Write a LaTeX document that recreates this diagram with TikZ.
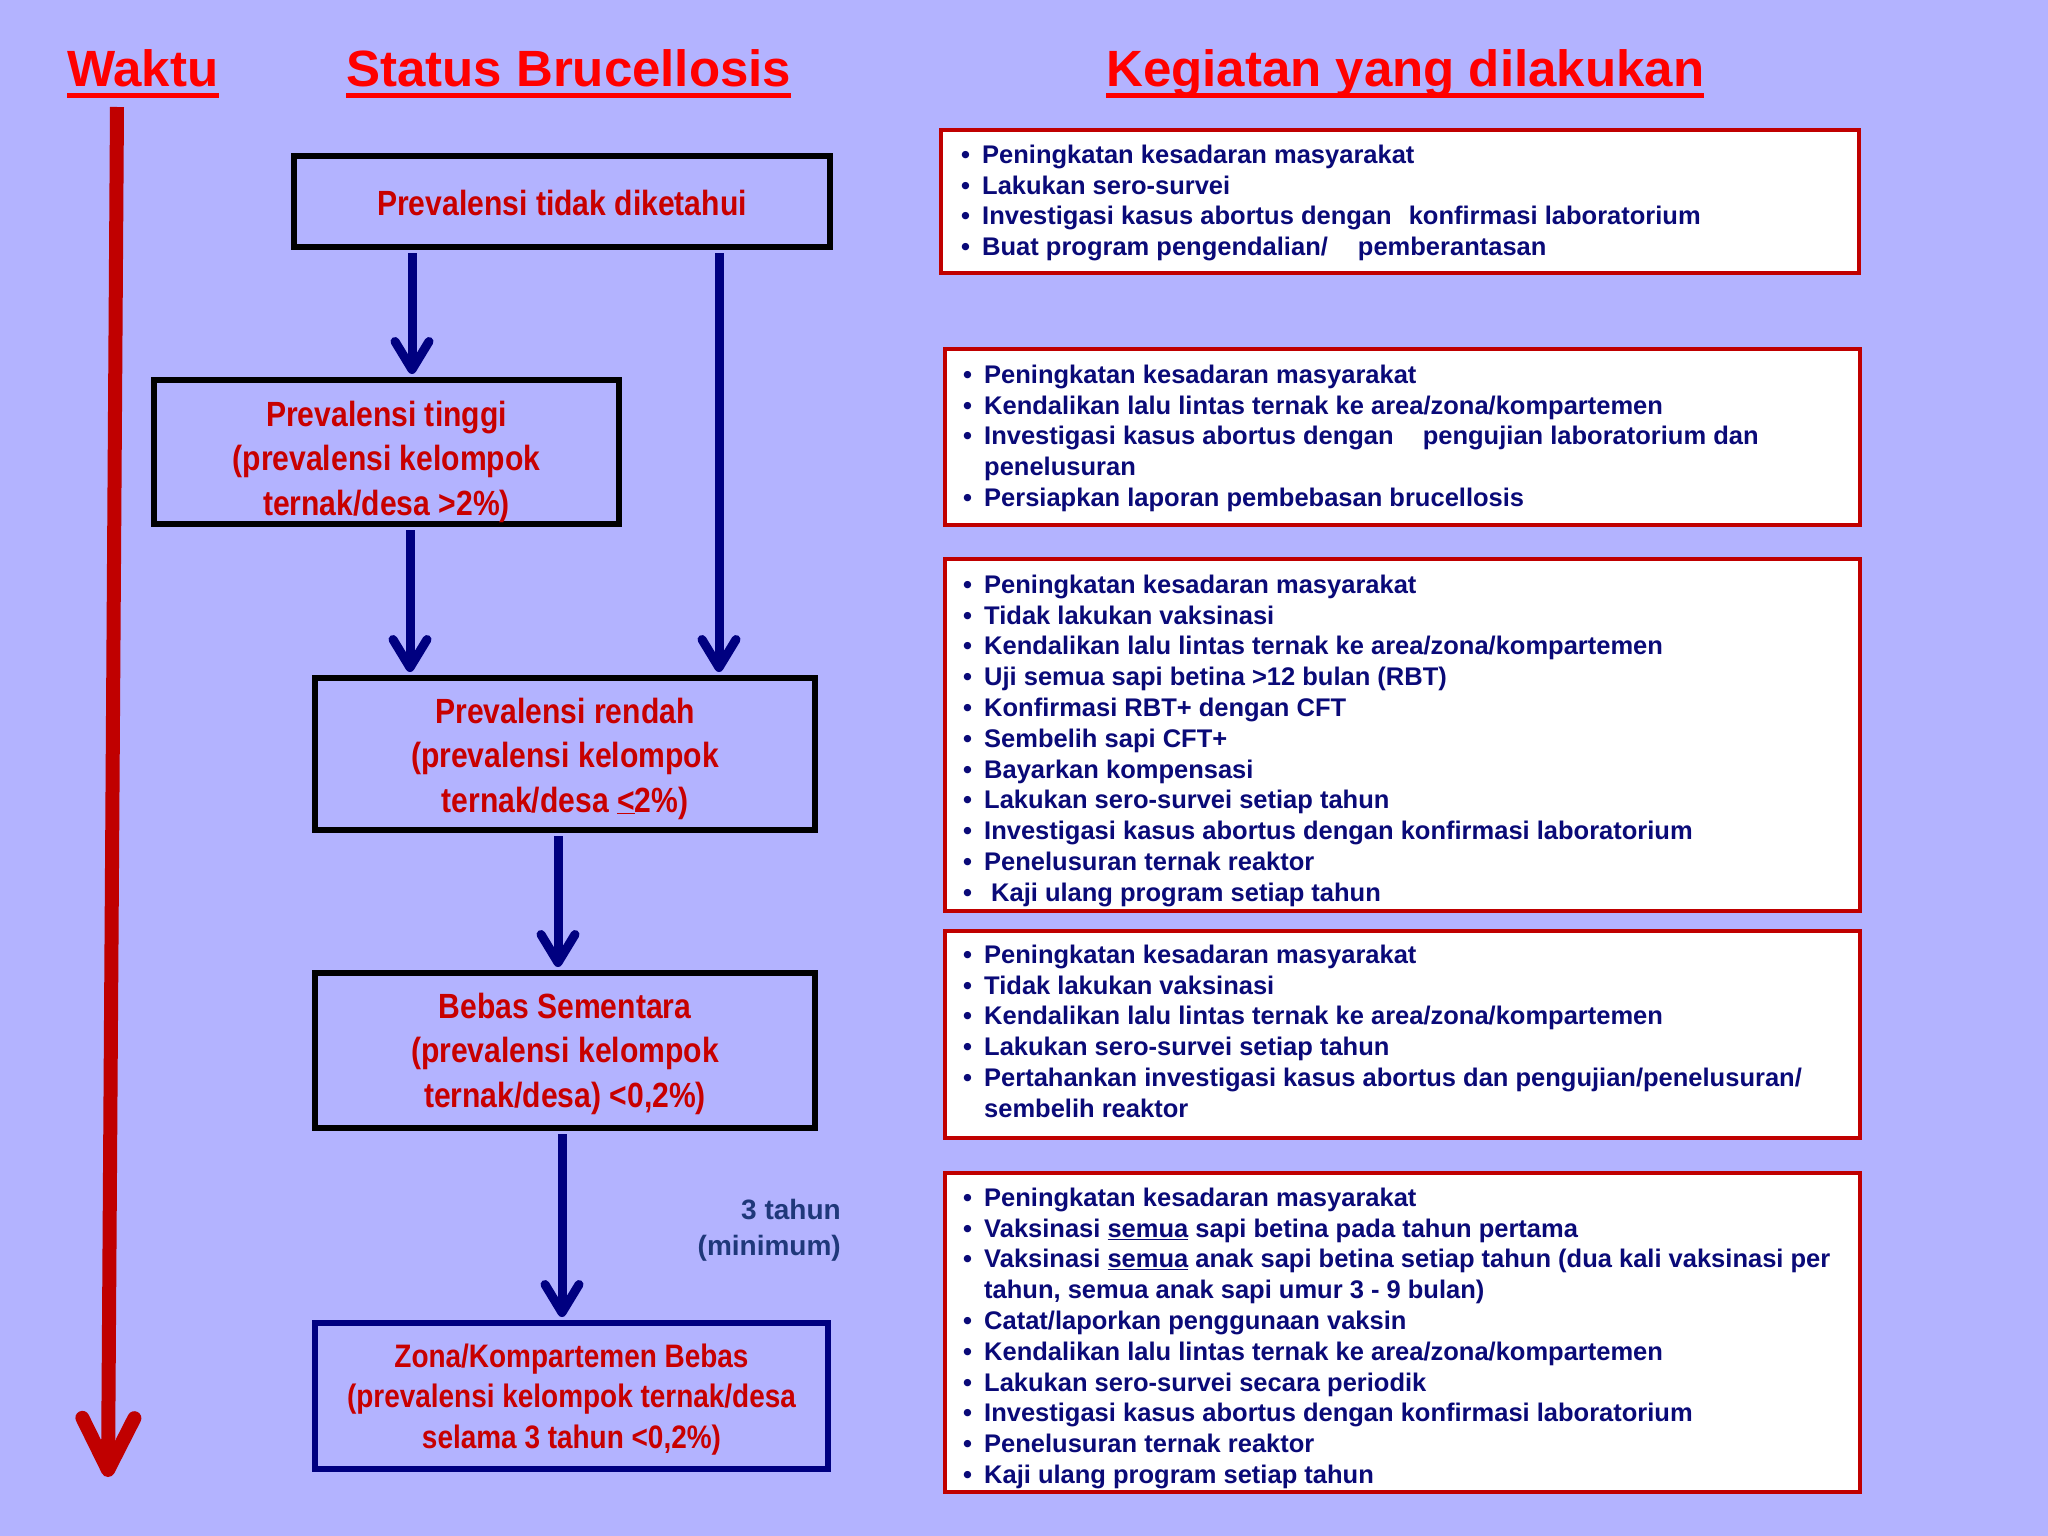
\documentclass[tikz,border=0pt]{standalone}
\usepackage{fontspec}
\setmainfont{Liberation Sans}
\newfontfamily\narrowsf[FakeStretch=0.86]{Liberation Sans}
\usetikzlibrary{arrows.meta}
\definecolor{bgc}{RGB}{179,179,255}
\definecolor{titlered}{RGB}{255,0,0}
\definecolor{darkred}{RGB}{192,0,0}
\definecolor{boxtext}{RGB}{200,0,0}
\definecolor{navyc}{RGB}{0,0,128}
\definecolor{slateblue}{RGB}{31,56,122}
\definecolor{itemblue}{RGB}{10,10,120}
\newcommand{\itm}{\makebox[21pt][l]{•}}
\newcommand{\cont}{\hspace*{21pt}}
\begin{document}
\begin{tikzpicture}[x=1pt,y=-1pt,
  titletext/.style={anchor=base west, inner sep=0pt, text=titlered,
    font=\fontsize{51}{60}\selectfont\bfseries},
  uline/.style={draw=titlered, line width=5pt},
  lbox/.style={draw=black, line width=6pt, inner sep=0pt},
  ltext/.style={inner sep=0pt, align=center, text=boxtext,
    font=\narrowsf\fontsize{35}{44.5}\selectfont\bfseries},
  ltextsmall/.style={inner sep=0pt, align=center, text=boxtext,
    font=\narrowsf\fontsize{32.5}{40.5}\selectfont\bfseries},
  rbox/.style={draw=darkred, line width=4pt, fill=white, inner sep=0pt},
  rlist/.style={anchor=north west, inner sep=0pt, align=left, text=itemblue,
    font=\fontsize{25.5}{30.8}\selectfont\bfseries},
  flow/.style={draw=navyc, line width=9pt, shorten <=3pt, shorten >=3pt,
    -{Straight Barb[round, length=28pt, width=34pt]}},
  timearrow/.style={draw=darkred, line width=14pt,
    -{Straight Barb[round, length=52pt, width=52pt]}}
]
\fill[bgc] (0,0) rectangle (2048,1536);
\useasboundingbox (0,0) rectangle (2048,1536);

% titles
\node[titletext] (hw) at (67,87) {Waktu};
\node[titletext] (hs) at (346,87) {Status Brucellosis};
\node[titletext] (hk) at (1106,87) {Kegiatan yang dilakukan};
\draw[uline] ([yshift=-8.5pt]hw.base west) -- ([yshift=-8.5pt]hw.base east);
\draw[uline] ([yshift=-8.5pt]hs.base west) -- ([yshift=-8.5pt]hs.base east);
\draw[uline] ([yshift=-8.5pt]hk.base west) -- ([yshift=-8.5pt]hk.base east);

% time arrow
\coordinate (ttop) at (117,107);
\coordinate (tbot) at (108,1477);
\draw[timearrow] (ttop) -- (tbot);

% left status boxes
\node[lbox, minimum width=536pt, minimum height=91pt] (b1) at (562,201.5) {};
\node[lbox, minimum width=465pt, minimum height=144pt] (b2) at (386.5,452) {};
\node[lbox, minimum width=500pt, minimum height=152pt] (b3) at (565,754) {};
\node[lbox, minimum width=500pt, minimum height=155pt] (b4) at (565,1050.5) {};
\node[lbox, draw=navyc, minimum width=513pt, minimum height=146pt] (b5) at (571.5,1396) {};

\node[ltext] (t1) at (562,202.5) {Prevalensi tidak diketahui};
\node[ltext] (t2) at (386.5,461.5) {Prevalensi tinggi\\(prevalensi kelompok\\ternak/desa >2\%)};
\node[ltext] (t3) at (565,758.5) {Prevalensi rendah\\(prevalensi kelompok\\ternak/desa \underline{<}2\%)};
\node[ltext] (t4) at (565,1053.5) {Bebas Sementara\\(prevalensi kelompok\\ternak/desa) <0,2\%)};
\node[ltextsmall] (t5) at (571.5,1399.5) {Zona/Kompartemen Bebas\\(prevalensi kelompok ternak/desa\\selama 3 tahun <0,2\%)};

% connectors
\coordinate (cx1) at (412,0);
\coordinate (cx2) at (719,0);
\coordinate (cx3) at (410,0);
\coordinate (cx4) at (558,0);
\coordinate (cx5) at (562,0);
\draw[flow] (b1.south -| cx1) -- (b2.north -| cx1);
\draw[flow] (b1.south -| cx2) -- (b3.north -| cx2);
\draw[flow] (b2.south -| cx3) -- (b3.north -| cx3);
\draw[flow] (b3.south -| cx4) -- (b4.north -| cx4);
\draw[flow] (b4.south -| cx5) -- (b5.north -| cx5);

\node[anchor=east, inner sep=0pt, align=right, text=slateblue,
  font=\fontsize{28}{36}\selectfont\bfseries] (dur) at (841,1230) {3 tahun\\(minimum)};

% right activity boxes
\node[rbox, minimum width=918pt, minimum height=143pt] (r1) at (1400,201.5) {};
\node[rbox, minimum width=915pt, minimum height=176pt] (r2) at (1402.5,437) {};
\node[rbox, minimum width=915pt, minimum height=352pt] (r3) at (1402.5,735) {};
\node[rbox, minimum width=915pt, minimum height=207pt] (r4) at (1402.5,1034.5) {};
\node[rbox, minimum width=915pt, minimum height=319pt] (r5) at (1402.5,1332.5) {};

\node[rlist] (l1) at (961,144.7) {\itm Peningkatan kesadaran masyarakat\\
\itm Lakukan sero-survei\\
\itm Investigasi kasus abortus dengan\hspace{10pt} konfirmasi laboratorium\\
\itm Buat program pengendalian/\hspace{23pt} pemberantasan};

\node[rlist] (l2) at (963,364.7) {\itm Peningkatan kesadaran masyarakat\\
\itm Kendalikan lalu lintas ternak ke area/zona/kompartemen\\
\itm Investigasi kasus abortus dengan\hspace{22pt} pengujian laboratorium dan\\
\cont penelusuran\\
\itm Persiapkan laporan pembebasan brucellosis};

\node[rlist] (l3) at (963,574.7) {\itm Peningkatan kesadaran masyarakat\\
\itm Tidak lakukan vaksinasi\\
\itm Kendalikan lalu lintas ternak ke area/zona/kompartemen\\
\itm Uji semua sapi betina >12 bulan (RBT)\\
\itm Konfirmasi RBT+ dengan CFT\\
\itm Sembelih sapi CFT+\\
\itm Bayarkan kompensasi\\
\itm Lakukan sero-survei setiap tahun\\
\itm Investigasi kasus abortus dengan konfirmasi laboratorium\\
\itm Penelusuran ternak reaktor\\
\itm\hspace{7pt}Kaji ulang program setiap tahun};

\node[rlist] (l4) at (963,944.7) {\itm Peningkatan kesadaran masyarakat\\
\itm Tidak lakukan vaksinasi\\
\itm Kendalikan lalu lintas ternak ke area/zona/kompartemen\\
\itm Lakukan sero-survei setiap tahun\\
\itm Pertahankan investigasi kasus abortus dan pengujian/penelusuran/\\
\cont sembelih reaktor};

\node[rlist] (l5) at (963,1187.7) {\itm Peningkatan kesadaran masyarakat\\
\itm Vaksinasi \underline{semua} sapi betina pada tahun pertama\\
\itm Vaksinasi \underline{semua} anak sapi betina setiap tahun (dua kali vaksinasi per\\
\cont tahun, semua anak sapi umur 3 - 9 bulan)\\
\itm Catat/laporkan penggunaan vaksin\\
\itm Kendalikan lalu lintas ternak ke area/zona/kompartemen\\
\itm Lakukan sero-survei secara periodik\\
\itm Investigasi kasus abortus dengan konfirmasi laboratorium\\
\itm Penelusuran ternak reaktor\\
\itm Kaji ulang program setiap tahun};
\end{tikzpicture}
\end{document}
